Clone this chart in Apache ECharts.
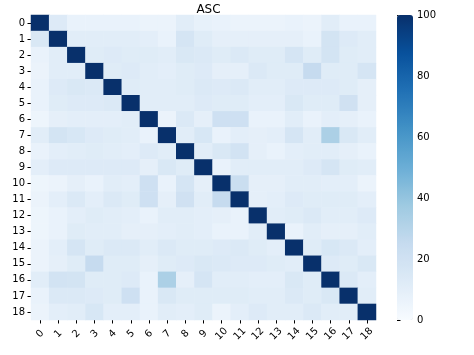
<!DOCTYPE html>
<html>
<head>
<meta charset="utf-8">
<script src="https://cdn.jsdelivr.net/npm/echarts@6/dist/echarts.min.js"></script>
<style>html,body{margin:0;padding:0;background:#fff}#c{width:474px;height:355px}</style>
</head>
<body>
<div id="c"></div>
<script>
const labels = ['0','1','2','3','4','5','6','7','8','9','10','11','12','13','14','15','16','17','18'];
const colorbarTicks = [0, 20, 40, 60, 80, 100];
const blues = ['#f7fbff','#deebf7','#c6dbef','#9ecae1','#6baed6','#4292c6','#2171b5','#08519c','#08306b'];
const matrix = [
  [100,13,7,7,7,7,6,6,11,8,7,6,6,6,7,6,11,7,7],
  [15,100,11,11,11,11,10,7,17,12,9,9,9,9,9,7,18,13,11],
  [7,11,100,12,13,12,12,11,15,14,12,14,12,12,17,12,18,12,11],
  [6,11,11,100,12,13,11,10,12,13,9,9,14,12,12,25,12,12,17],
  [7,13,15,14,100,12,11,11,12,14,13,14,11,11,13,13,13,12,9],
  [7,12,13,13,14,100,11,11,11,13,12,12,10,10,15,12,12,20,9],
  [5,9,10,10,10,11,100,6,14,9,21,21,7,7,11,7,10,9,7],
  [11,18,16,13,12,11,7,100,11,16,7,10,9,10,17,11,33,15,11],
  [7,10,11,12,11,10,13,11,100,11,15,19,9,7,10,11,11,9,7],
  [10,13,13,13,13,13,9,15,12,100,7,11,11,11,11,13,17,12,11],
  [5,6,9,7,11,10,21,7,17,9,100,23,9,9,11,11,10,10,6],
  [6,10,14,10,14,12,21,9,20,11,25,100,9,10,13,12,12,12,10],
  [5,7,10,12,11,10,7,11,11,10,9,7,100,11,12,14,11,11,13],
  [5,7,12,11,11,9,9,10,11,10,7,7,11,100,7,11,9,9,11],
  [6,10,17,12,14,14,11,14,12,12,13,14,12,10,100,12,16,14,10],
  [6,9,12,25,12,12,9,12,13,15,14,13,13,12,11,100,13,12,15],
  [11,19,18,12,12,13,7,33,9,17,11,11,10,10,15,12,100,14,10],
  [7,14,14,13,12,21,7,15,12,12,12,12,11,11,14,12,15,100,11],
  [6,10,11,16,10,10,7,11,10,12,6,10,13,11,11,14,11,11,100]
];

const data = [];
matrix.forEach((row, i) => row.forEach((v, j) => data.push([j, i, v])));

const chart = echarts.init(document.getElementById('c'), null, {renderer: 'canvas'});
const font = 'DejaVu Sans';
chart.setOption({
  animation: false,
  backgroundColor: '#ffffff',
  textStyle: {fontFamily: font},
  title: {
    text: 'ASC', left: 203.5, top: -1, textAlign: 'center',
    textStyle: {fontFamily: font, fontSize: 12, fontWeight: 'normal', color: '#000'}
  },
  grid: [
    {left: 31, top: 15, width: 345, height: 305},
    {left: 397, top: 15, width: 16, height: 305}
  ],
  xAxis: [
    {
      type: 'category', data: labels, gridIndex: 0, position: 'bottom',
      axisLine: {show: false}, splitArea: {show: false},
      axisTick: {show: true, alignWithLabel: true, length: 3.5, lineStyle: {color: '#000', width: 1}},
      axisLabel: {rotate: 45, align: 'center', verticalAlign: 'middle', margin: 14,
                  fontSize: 10, color: '#000', fontFamily: font, interval: 0}
    },
    {type: 'value', gridIndex: 1, min: 0, max: 1, show: false}
  ],
  yAxis: [
    {
      type: 'category', data: labels, gridIndex: 0, inverse: true,
      axisLine: {show: false}, splitArea: {show: false},
      axisTick: {show: true, alignWithLabel: true, length: 3.5, lineStyle: {color: '#000', width: 1}},
      axisLabel: {margin: 6, fontSize: 10, color: '#000', fontFamily: font, interval: 0}
    },
    {
      type: 'value', gridIndex: 1, min: colorbarTicks[0], max: colorbarTicks[colorbarTicks.length - 1],
      interval: colorbarTicks[1] - colorbarTicks[0], position: 'right',
      axisLine: {show: false}, splitLine: {show: false},
      axisTick: {show: true, length: 3.5, lineStyle: {color: '#000', width: 1}},
      axisLabel: {margin: 4, fontSize: 10, color: '#000', fontFamily: font}
    }
  ],
  visualMap: {
    type: 'continuous', min: 0, max: 100, seriesIndex: 0,
    calculable: false, orient: 'vertical', left: 397, top: 15,
    itemWidth: 16, itemHeight: 305, padding: 0, text: null, showLabel: false,
    inRange: {color: blues}
  },
  series: [{
    type: 'heatmap', xAxisIndex: 0, yAxisIndex: 0, data: data,
    itemStyle: {borderWidth: 0},
    emphasis: {disabled: true}
  }]
});
</script>
</body>
</html>
